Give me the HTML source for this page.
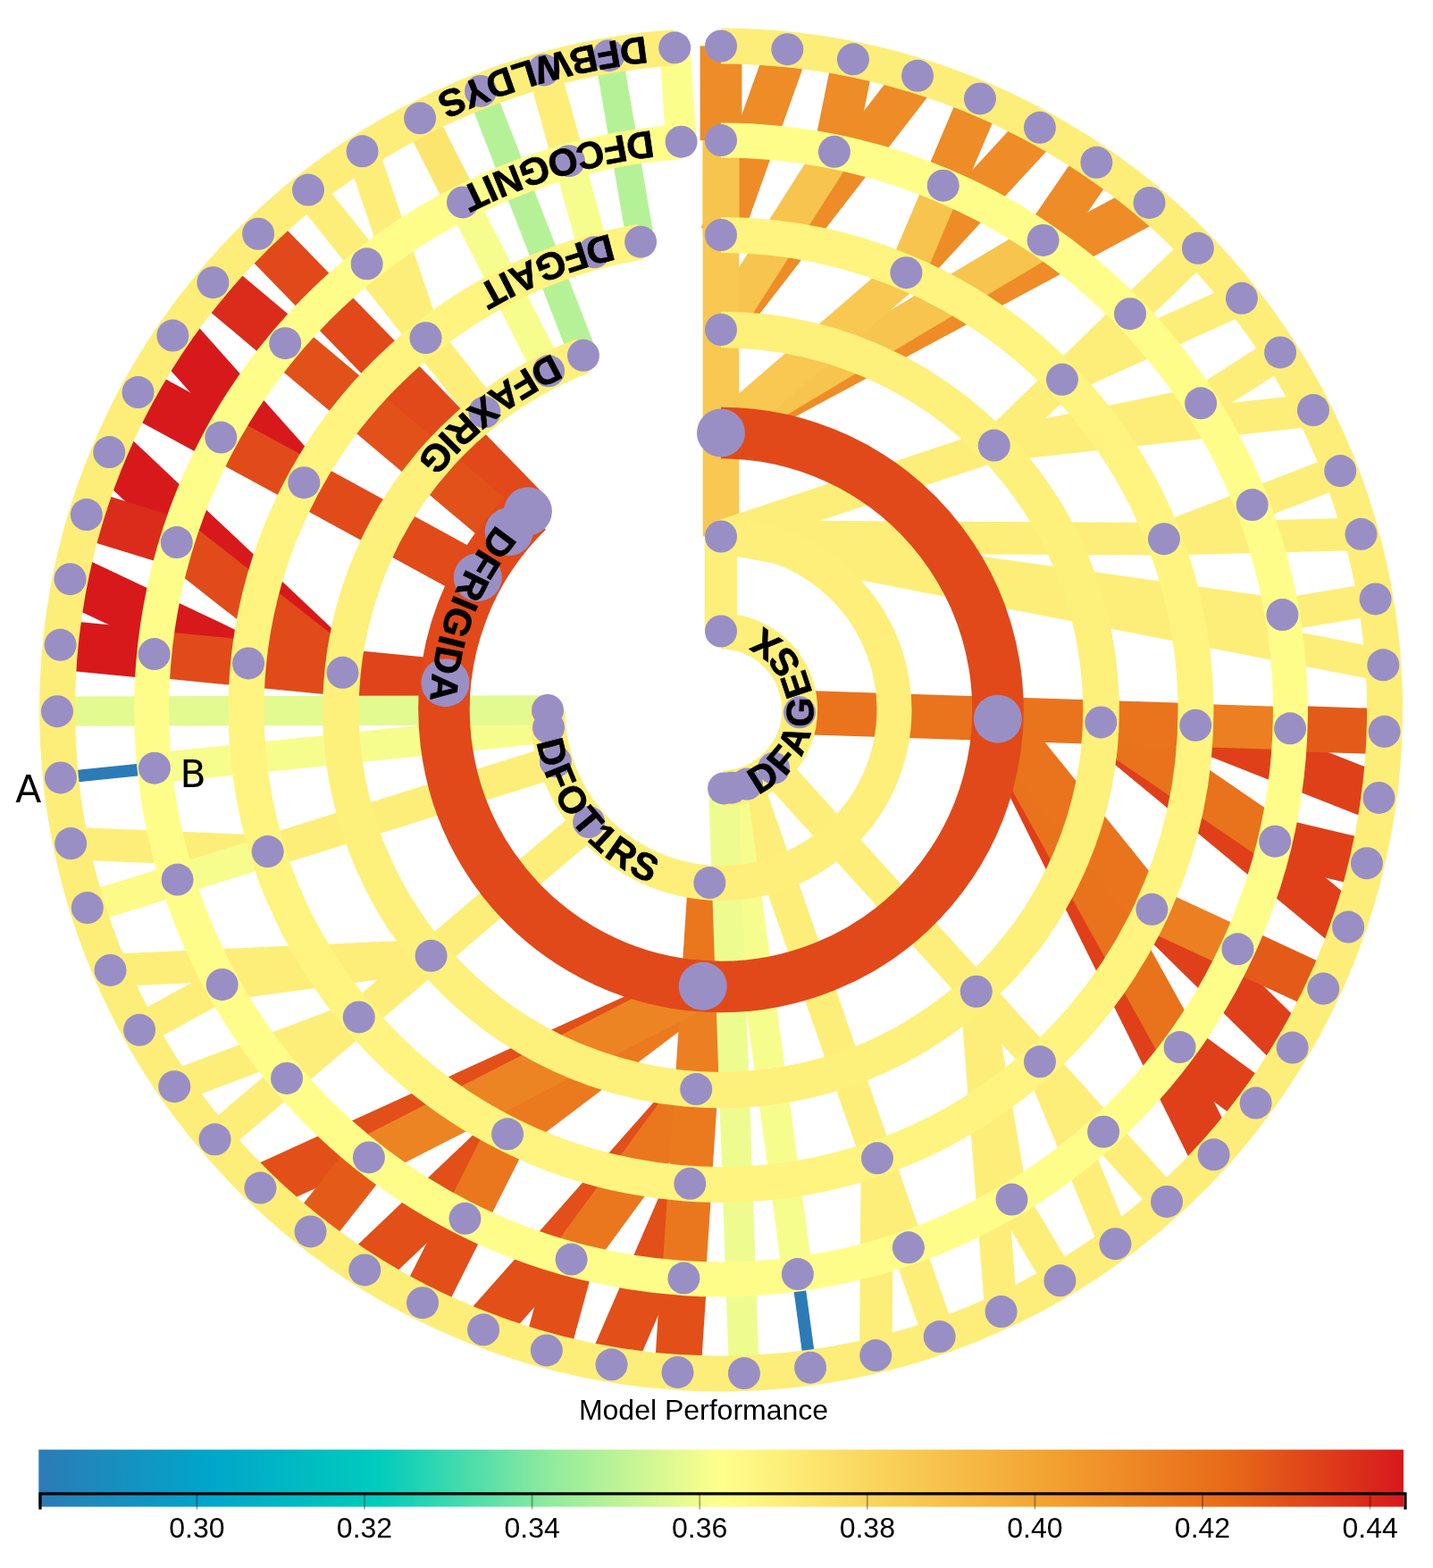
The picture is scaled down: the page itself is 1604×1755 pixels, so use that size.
<!DOCTYPE html>
<html lang="en"><head><meta charset="utf-8"><title>Model Performance</title>
<style>html,body{margin:0;padding:0;background:#fff}body{width:1604px;height:1755px;overflow:hidden}svg{display:block}.lab{font-family:"Liberation Sans",Arial,Helvetica,sans-serif;font-weight:bold;font-size:42.5px;letter-spacing:0px;fill:#000}.ax{font-family:"Liberation Sans",Arial,Helvetica,sans-serif;font-size:32px;fill:#000}.ab{font-family:"DejaVu Sans",Verdana,sans-serif;font-size:42.5px;fill:#000}</style></head><body>
<svg width="1604" height="1755" viewBox="0 0 1604 1755">
<defs><linearGradient id="cb" x1="0" x2="1" y1="0" y2="0">
<stop offset="0%" stop-color="#2c7bb6"/>
<stop offset="12.5%" stop-color="#00a6ca"/>
<stop offset="25%" stop-color="#00ccbc"/>
<stop offset="37.5%" stop-color="#90eb9d"/>
<stop offset="50%" stop-color="#ffff8c"/>
<stop offset="62.5%" stop-color="#f9d057"/>
<stop offset="75%" stop-color="#f29e2e"/>
<stop offset="87.5%" stop-color="#e76818"/>
<stop offset="100%" stop-color="#d7191c"/>
</linearGradient>
<path id="lp1" d="M810.07 882.45 A88 88 0 0 0 819.25 707.36"/><path id="lp2" d="M613 794.93 A194 194 0 0 0 998.13 827.77"/><path id="lp3" d="M590.92 572.22 A310 310 0 0 0 981.2 1050.93"/><path id="lp4" d="M652.98 397.86 A425.5 425.5 0 0 0 889.81 1211.86"/><path id="lp5" d="M717.1 270.66 A531.5 531.5 0 0 0 804.57 1325.99"/><path id="lp6" d="M762.58 158.65 A637.4 637.4 0 0 0 740.33 1428.4"/><path id="lp7" d="M755.22 53.31 A743 743 0 0 0 729.28 1533.42"/></defs>
<g fill="none" stroke-linecap="butt">
<line x1="193.4" y1="375.52" x2="340.28" y2="540.21" stroke="#d7191c" stroke-width="55.52"/>
<line x1="154.56" y1="439.01" x2="247.29" y2="489.54" stroke="#d7191c" stroke-width="55.52"/>
<line x1="122.27" y1="506.07" x2="383.54" y2="752.86" stroke="#d7191c" stroke-width="55.52"/>
<line x1="78.55" y1="648.17" x2="278.05" y2="742.49" stroke="#d7191c" stroke-width="55.52"/>
<line x1="67.57" y1="721.79" x2="172.66" y2="732.12" stroke="#d7191c" stroke-width="55.52"/>
<line x1="238.4" y1="316.23" x2="319.21" y2="384.21" stroke="#db2c1b" stroke-width="54.23"/>
<line x1="96.85" y1="576.03" x2="197.78" y2="607.08" stroke="#db2c1b" stroke-width="54.23"/>
<line x1="1358.58" y1="1292.3" x2="1116.83" y2="804.63" stroke="#df401a" stroke-width="52.95"/>
<line x1="1405.62" y1="1234.62" x2="1320.54" y2="1172.06" stroke="#df401a" stroke-width="52.95"/>
<line x1="1446.65" y1="1172.52" x2="1289.33" y2="1017.78" stroke="#df401a" stroke-width="52.95"/>
<line x1="1509.11" y1="1037.6" x2="1232.27" y2="808.4" stroke="#df401a" stroke-width="52.95"/>
<line x1="1529.9" y1="966.13" x2="1427.16" y2="941.74" stroke="#df401a" stroke-width="52.95"/>
<line x1="1543.45" y1="892.95" x2="1338.22" y2="811.86" stroke="#df401a" stroke-width="52.95"/>
<line x1="383.54" y1="752.86" x2="498.49" y2="764.16" stroke="#e0441a" stroke-width="52.69"/>
<line x1="289.1" y1="261.75" x2="590.92" y2="572.22" stroke="#e1491a" stroke-width="52.31"/>
<line x1="247.29" y1="489.54" x2="340.28" y2="540.21" stroke="#e14b19" stroke-width="52.18"/>
<line x1="197.78" y1="607.08" x2="383.54" y2="752.86" stroke="#e14b19" stroke-width="52.18"/>
<line x1="172.66" y1="732.12" x2="278.05" y2="742.49" stroke="#e14b19" stroke-width="52.18"/>
<line x1="340.28" y1="540.21" x2="534.78" y2="646.18" stroke="#e14b19" stroke-width="52.18"/>
<line x1="278.05" y1="742.49" x2="383.54" y2="752.86" stroke="#e14b19" stroke-width="52.18"/>
<line x1="291.45" y1="1329.53" x2="786.76" y2="1103.84" stroke="#e24f19" stroke-width="51.92"/>
<line x1="408.29" y1="1421.46" x2="568.09" y2="1269.28" stroke="#e24f19" stroke-width="51.92"/>
<line x1="473.02" y1="1458.21" x2="520.48" y2="1363.87" stroke="#e24f19" stroke-width="51.92"/>
<line x1="541.1" y1="1488.29" x2="779.22" y2="1219.09" stroke="#e24f19" stroke-width="51.92"/>
<line x1="611.84" y1="1511.41" x2="639.58" y2="1409.52" stroke="#e24f19" stroke-width="51.92"/>
<line x1="684.55" y1="1527.34" x2="772.29" y2="1324.87" stroke="#e24f19" stroke-width="51.92"/>
<line x1="758.48" y1="1535.91" x2="765.38" y2="1430.54" stroke="#e24f19" stroke-width="51.92"/>
<line x1="319.21" y1="384.21" x2="569.76" y2="594.95" stroke="#e25119" stroke-width="51.79"/>
<line x1="347.56" y1="1378.42" x2="412.86" y2="1295.43" stroke="#e45b19" stroke-width="51.15"/>
<line x1="1481.26" y1="1106.62" x2="1385.43" y2="1062.26" stroke="#e45b19" stroke-width="51.15"/>
<line x1="1549.6" y1="818.77" x2="1444.06" y2="815.32" stroke="#e45b19" stroke-width="51.15"/>
<line x1="1320.54" y1="1172.06" x2="1116.83" y2="804.63" stroke="#e9721c" stroke-width="49.35"/>
<line x1="1427.16" y1="941.74" x2="1232.27" y2="808.4" stroke="#e9721c" stroke-width="49.35"/>
<line x1="1289.33" y1="1017.78" x2="1116.83" y2="804.63" stroke="#ea741d" stroke-width="49.09"/>
<line x1="1338.22" y1="811.86" x2="1232.27" y2="808.4" stroke="#ea741d" stroke-width="49.09"/>
<line x1="1232.27" y1="808.4" x2="1116.83" y2="804.63" stroke="#ea741d" stroke-width="49.09"/>
<line x1="1116.83" y1="804.63" x2="894.95" y2="797.37" stroke="#ea741d" stroke-width="49.09"/>
<line x1="520.48" y1="1363.87" x2="568.09" y2="1269.28" stroke="#ea771e" stroke-width="48.84"/>
<line x1="639.58" y1="1409.52" x2="779.22" y2="1219.09" stroke="#ea771e" stroke-width="48.84"/>
<line x1="765.38" y1="1430.54" x2="772.29" y2="1324.87" stroke="#ea771e" stroke-width="48.84"/>
<line x1="786.76" y1="1103.84" x2="794.33" y2="988.09" stroke="#ea771e" stroke-width="48.84"/>
<line x1="568.09" y1="1269.28" x2="786.76" y2="1103.84" stroke="#eb7a1f" stroke-width="48.58"/>
<line x1="772.29" y1="1324.87" x2="779.22" y2="1219.09" stroke="#eb7a1f" stroke-width="48.58"/>
<line x1="1385.43" y1="1062.26" x2="1289.33" y2="1017.78" stroke="#ec7f21" stroke-width="48.06"/>
<line x1="1444.06" y1="815.32" x2="1338.22" y2="811.86" stroke="#ec7f21" stroke-width="48.06"/>
<line x1="779.22" y1="1219.09" x2="786.76" y2="1103.84" stroke="#ec7f21" stroke-width="48.06"/>
<line x1="412.86" y1="1295.43" x2="786.76" y2="1103.84" stroke="#ed8423" stroke-width="47.55"/>
<line x1="1286.52" y1="226.95" x2="807" y2="484.5" stroke="#ee8c27" stroke-width="46.78"/>
<line x1="1227.33" y1="181.82" x2="1167.59" y2="268.9" stroke="#ee8c27" stroke-width="46.78"/>
<line x1="1163.92" y1="142.84" x2="1014.4" y2="305.14" stroke="#ee8c27" stroke-width="46.78"/>
<line x1="1096.93" y1="110.4" x2="1055.72" y2="207.63" stroke="#ee8c27" stroke-width="46.78"/>
<line x1="1027.03" y1="84.83" x2="807" y2="369" stroke="#ee8c27" stroke-width="46.78"/>
<line x1="954.93" y1="66.37" x2="933.9" y2="169.86" stroke="#ee8c27" stroke-width="46.78"/>
<line x1="881.34" y1="55.23" x2="807" y2="263" stroke="#ee8c27" stroke-width="46.78"/>
<line x1="807" y1="51.5" x2="807" y2="157.1" stroke="#ee8c27" stroke-width="46.78"/>
<line x1="1167.59" y1="268.9" x2="807" y2="484.5" stroke="#f7c44d" stroke-width="41.13"/>
<line x1="1055.72" y1="207.63" x2="1014.4" y2="305.14" stroke="#f7c44d" stroke-width="41.13"/>
<line x1="933.9" y1="169.86" x2="807" y2="369" stroke="#f7c44d" stroke-width="41.13"/>
<line x1="807" y1="157.1" x2="807" y2="263" stroke="#f7c44d" stroke-width="41.13"/>
<line x1="1014.4" y1="305.14" x2="807" y2="484.5" stroke="#f8c851" stroke-width="40.61"/>
<line x1="807" y1="263" x2="807" y2="369" stroke="#f8c851" stroke-width="40.61"/>
<line x1="807" y1="369" x2="807" y2="484.5" stroke="#f8c851" stroke-width="40.61"/>
<line x1="807" y1="484.5" x2="807" y2="600.5" stroke="#f8c851" stroke-width="40.61"/>
<line x1="470.1" y1="132.27" x2="517.98" y2="226.39" stroke="#fce56e" stroke-width="37.53"/>
<line x1="608.69" y1="78.45" x2="636.88" y2="180.22" stroke="#fdee79" stroke-width="36.5"/>
<line x1="405.54" y1="169.3" x2="476.51" y2="378.24" stroke="#fdee79" stroke-width="36.5"/>
<line x1="345" y1="212.6" x2="410.66" y2="295.31" stroke="#fdee79" stroke-width="36.5"/>
<line x1="79.2" y1="944.03" x2="299.69" y2="953.02" stroke="#fdee79" stroke-width="36.5"/>
<line x1="123.54" y1="1085.93" x2="482.58" y2="1069.82" stroke="#fdee79" stroke-width="36.5"/>
<line x1="156.13" y1="1152.85" x2="248.64" y2="1101.92" stroke="#fdee79" stroke-width="36.5"/>
<line x1="195.25" y1="1216.17" x2="401.76" y2="1138.41" stroke="#fdee79" stroke-width="36.5"/>
<line x1="240.51" y1="1275.26" x2="321.02" y2="1206.93" stroke="#fdee79" stroke-width="36.5"/>
<line x1="980.22" y1="1517.03" x2="982" y2="1296.36" stroke="#fdee79" stroke-width="36.5"/>
<line x1="1051.64" y1="1496.07" x2="1016.87" y2="1396.36" stroke="#fdee79" stroke-width="36.5"/>
<line x1="1120.61" y1="1468.07" x2="1092.77" y2="1109.75" stroke="#fdee79" stroke-width="36.5"/>
<line x1="1186.42" y1="1433.32" x2="1132.5" y2="1342.52" stroke="#fdee79" stroke-width="36.5"/>
<line x1="1248.43" y1="1392.15" x2="1163.96" y2="1188.29" stroke="#fdee79" stroke-width="36.5"/>
<line x1="1306.01" y1="1344.99" x2="1235.09" y2="1266.75" stroke="#fdee79" stroke-width="36.5"/>
<line x1="1548.31" y1="744.35" x2="807" y2="600.5" stroke="#fdee79" stroke-width="36.5"/>
<line x1="1539.57" y1="670.44" x2="1435.45" y2="688.07" stroke="#fdee79" stroke-width="36.5"/>
<line x1="1523.48" y1="597.77" x2="1302.88" y2="603.2" stroke="#fdee79" stroke-width="36.5"/>
<line x1="1500.2" y1="527.07" x2="1401.68" y2="565.08" stroke="#fdee79" stroke-width="36.5"/>
<line x1="1469.97" y1="459.06" x2="1112.75" y2="498.58" stroke="#fdee79" stroke-width="36.5"/>
<line x1="1433.08" y1="394.41" x2="1344.1" y2="451.27" stroke="#fdee79" stroke-width="36.5"/>
<line x1="1389.91" y1="333.78" x2="1188.92" y2="424.86" stroke="#fdee79" stroke-width="36.5"/>
<line x1="1340.89" y1="277.77" x2="1265.01" y2="351.21" stroke="#fdee79" stroke-width="36.5"/>
<line x1="410.66" y1="295.31" x2="476.51" y2="378.24" stroke="#fdee79" stroke-width="36.5"/>
<line x1="248.64" y1="1101.92" x2="482.58" y2="1069.82" stroke="#fdee79" stroke-width="36.5"/>
<line x1="321.02" y1="1206.93" x2="401.76" y2="1138.41" stroke="#fdee79" stroke-width="36.5"/>
<line x1="1016.87" y1="1396.36" x2="982" y2="1296.36" stroke="#fdee79" stroke-width="36.5"/>
<line x1="1132.5" y1="1342.52" x2="1092.77" y2="1109.75" stroke="#fdee79" stroke-width="36.5"/>
<line x1="1235.09" y1="1266.75" x2="1163.96" y2="1188.29" stroke="#fdee79" stroke-width="36.5"/>
<line x1="1435.45" y1="688.07" x2="807" y2="600.5" stroke="#fdee79" stroke-width="36.5"/>
<line x1="1401.68" y1="565.08" x2="1302.88" y2="603.2" stroke="#fdee79" stroke-width="36.5"/>
<line x1="1344.1" y1="451.27" x2="1112.75" y2="498.58" stroke="#fdee79" stroke-width="36.5"/>
<line x1="1265.01" y1="351.21" x2="1188.92" y2="424.86" stroke="#fdee79" stroke-width="36.5"/>
<line x1="476.51" y1="378.24" x2="542.42" y2="461.26" stroke="#fdee79" stroke-width="36.5"/>
<line x1="299.69" y1="953.02" x2="621.83" y2="852.36" stroke="#fdee79" stroke-width="36.5"/>
<line x1="401.76" y1="1138.41" x2="482.58" y2="1069.82" stroke="#fdee79" stroke-width="36.5"/>
<line x1="982" y1="1296.36" x2="835.98" y2="877.59" stroke="#fdee79" stroke-width="36.5"/>
<line x1="1163.96" y1="1188.29" x2="1092.77" y2="1109.75" stroke="#fdee79" stroke-width="36.5"/>
<line x1="1302.88" y1="603.2" x2="807" y2="600.5" stroke="#fdee79" stroke-width="36.5"/>
<line x1="1188.92" y1="424.86" x2="1112.75" y2="498.58" stroke="#fdee79" stroke-width="36.5"/>
<line x1="482.58" y1="1069.82" x2="659.09" y2="920.03" stroke="#fdee79" stroke-width="36.5"/>
<line x1="1092.77" y1="1109.75" x2="866.1" y2="859.7" stroke="#fdee79" stroke-width="36.5"/>
<line x1="1112.75" y1="498.58" x2="807" y2="600.5" stroke="#fdee79" stroke-width="36.5"/>
<line x1="807" y1="600.5" x2="807" y2="706.5" stroke="#fdef7a" stroke-width="36.37"/>
<line x1="97.81" y1="1016.09" x2="198.61" y2="984.6" stroke="#fefa87" stroke-width="35.09"/>
<line x1="755.22" y1="53.31" x2="762.58" y2="158.65" stroke="#fcfe8c" stroke-width="34.44"/>
<line x1="636.88" y1="180.22" x2="665.14" y2="282.28" stroke="#f7fd8d" stroke-width="34.19"/>
<line x1="517.98" y1="226.39" x2="614.07" y2="415.26" stroke="#f7fd8d" stroke-width="34.19"/>
<line x1="172.94" y1="859.67" x2="614.02" y2="814.33" stroke="#f7fd8d" stroke-width="34.19"/>
<line x1="198.61" y1="984.6" x2="299.69" y2="953.02" stroke="#f7fd8d" stroke-width="34.19"/>
<line x1="892.84" y1="1426.09" x2="818.85" y2="881.7" stroke="#f7fd8d" stroke-width="34.19"/>
<line x1="832.9" y1="1537.05" x2="810.07" y2="882.45" stroke="#eefc8f" stroke-width="33.8"/>
<line x1="64" y1="796.13" x2="613" y2="794.93" stroke="#e2fa90" stroke-width="33.24"/>
<line x1="681.33" y1="62.21" x2="717.1" y2="270.66" stroke="#b5f297" stroke-width="31.1"/>
<line x1="538.05" y1="101.89" x2="652.98" y2="397.86" stroke="#b5f297" stroke-width="31.1"/>
<line x1="67.89" y1="870.46" x2="172.94" y2="859.67" stroke="#2c7bb6" stroke-width="13.65"/>
<line x1="907.07" y1="1530.73" x2="892.84" y2="1426.09" stroke="#2c7bb6" stroke-width="13.65"/>
</g>
<g fill="none" stroke-linecap="butt" stroke-linejoin="round">
<path d="M807 706.5 A88 88 0 0 1 810.07 882.45" stroke="#fdef7a" stroke-width="40"/>
<path d="M807 600.5 A194 194 0 1 1 613 794.93" stroke="#fdef7a" stroke-width="39"/>
<path d="M807 484.5 A310 310 0 1 1 590.92 572.22" stroke="#e1491a" stroke-width="57.5"/>
<path d="M807 369 A425.5 425.5 0 1 1 652.98 397.86" stroke="#fdf07b" stroke-width="40.6"/>
<path d="M807 263 A531.5 531.5 0 1 1 717.1 270.66" stroke="#fef47f" stroke-width="40"/>
<path d="M807 157.1 A637.4 637.4 0 1 1 762.58 158.65" stroke="#fffd8a" stroke-width="39"/>
<path d="M807 51.5 A743 743 0 1 1 755.22 53.31" stroke="#fdee79" stroke-width="40"/>
</g>
<g fill="#9a8fc4">
<circle cx="807" cy="706.5" r="18"/>
<circle cx="894.95" cy="797.37" r="18"/>
<circle cx="866.1" cy="859.7" r="18"/>
<circle cx="835.98" cy="877.59" r="18"/>
<circle cx="818.85" cy="881.7" r="18"/>
<circle cx="810.07" cy="882.45" r="18"/>
<circle cx="807" cy="600.5" r="18"/>
<circle cx="794.33" cy="988.09" r="18"/>
<circle cx="659.09" cy="920.03" r="18"/>
<circle cx="621.83" cy="852.36" r="18"/>
<circle cx="614.02" cy="814.33" r="18"/>
<circle cx="613" cy="794.93" r="18"/>
<circle cx="807" cy="484.5" r="27"/>
<circle cx="1116.83" cy="804.63" r="27"/>
<circle cx="786.76" cy="1103.84" r="27"/>
<circle cx="498.49" cy="764.16" r="27"/>
<circle cx="534.78" cy="646.18" r="27"/>
<circle cx="569.76" cy="594.95" r="27"/>
<circle cx="590.92" cy="572.22" r="27"/>
<circle cx="807" cy="369" r="18"/>
<circle cx="1112.75" cy="498.58" r="18"/>
<circle cx="1232.27" cy="808.4" r="18"/>
<circle cx="1092.77" cy="1109.75" r="18"/>
<circle cx="779.22" cy="1219.09" r="18"/>
<circle cx="482.58" cy="1069.82" r="18"/>
<circle cx="383.54" cy="752.86" r="18"/>
<circle cx="542.42" cy="461.26" r="18"/>
<circle cx="614.07" cy="415.26" r="18"/>
<circle cx="652.98" cy="397.86" r="18"/>
<circle cx="807" cy="263" r="18"/>
<circle cx="1014.4" cy="305.14" r="18"/>
<circle cx="1188.92" cy="424.86" r="18"/>
<circle cx="1302.88" cy="603.2" r="18"/>
<circle cx="1338.22" cy="811.86" r="18"/>
<circle cx="1289.33" cy="1017.78" r="18"/>
<circle cx="1163.96" cy="1188.29" r="18"/>
<circle cx="982" cy="1296.36" r="18"/>
<circle cx="772.29" cy="1324.87" r="18"/>
<circle cx="568.09" cy="1269.28" r="18"/>
<circle cx="401.76" cy="1138.41" r="18"/>
<circle cx="299.69" cy="953.02" r="18"/>
<circle cx="278.05" cy="742.49" r="18"/>
<circle cx="340.28" cy="540.21" r="18"/>
<circle cx="476.51" cy="378.24" r="18"/>
<circle cx="665.14" cy="282.28" r="18"/>
<circle cx="717.1" cy="270.66" r="18"/>
<circle cx="807" cy="157.1" r="18"/>
<circle cx="933.9" cy="169.86" r="18"/>
<circle cx="1055.72" cy="207.63" r="18"/>
<circle cx="1167.59" cy="268.9" r="18"/>
<circle cx="1265.01" cy="351.21" r="18"/>
<circle cx="1344.1" cy="451.27" r="18"/>
<circle cx="1401.68" cy="565.08" r="18"/>
<circle cx="1435.45" cy="688.07" r="18"/>
<circle cx="1444.06" cy="815.32" r="18"/>
<circle cx="1427.16" cy="941.74" r="18"/>
<circle cx="1385.43" cy="1062.26" r="18"/>
<circle cx="1320.54" cy="1172.06" r="18"/>
<circle cx="1235.09" cy="1266.75" r="18"/>
<circle cx="1132.5" cy="1342.52" r="18"/>
<circle cx="1016.87" cy="1396.36" r="18"/>
<circle cx="892.84" cy="1426.09" r="18"/>
<circle cx="765.38" cy="1430.54" r="18"/>
<circle cx="639.58" cy="1409.52" r="18"/>
<circle cx="520.48" cy="1363.87" r="18"/>
<circle cx="412.86" cy="1295.43" r="18"/>
<circle cx="321.02" cy="1206.93" r="18"/>
<circle cx="248.64" cy="1101.92" r="18"/>
<circle cx="198.61" cy="984.6" r="18"/>
<circle cx="172.94" cy="859.67" r="18"/>
<circle cx="172.66" cy="732.12" r="18"/>
<circle cx="197.78" cy="607.08" r="18"/>
<circle cx="247.29" cy="489.54" r="18"/>
<circle cx="319.21" cy="384.21" r="18"/>
<circle cx="410.66" cy="295.31" r="18"/>
<circle cx="517.98" cy="226.39" r="18"/>
<circle cx="636.88" cy="180.22" r="18"/>
<circle cx="762.58" cy="158.65" r="18"/>
<circle cx="807" cy="51.5" r="18"/>
<circle cx="881.34" cy="55.23" r="18"/>
<circle cx="954.93" cy="66.37" r="18"/>
<circle cx="1027.03" cy="84.83" r="18"/>
<circle cx="1096.93" cy="110.4" r="18"/>
<circle cx="1163.92" cy="142.84" r="18"/>
<circle cx="1227.33" cy="181.82" r="18"/>
<circle cx="1286.52" cy="226.95" r="18"/>
<circle cx="1340.89" cy="277.77" r="18"/>
<circle cx="1389.91" cy="333.78" r="18"/>
<circle cx="1433.08" cy="394.41" r="18"/>
<circle cx="1469.97" cy="459.06" r="18"/>
<circle cx="1500.2" cy="527.07" r="18"/>
<circle cx="1523.48" cy="597.77" r="18"/>
<circle cx="1539.57" cy="670.44" r="18"/>
<circle cx="1548.31" cy="744.35" r="18"/>
<circle cx="1549.6" cy="818.77" r="18"/>
<circle cx="1543.45" cy="892.95" r="18"/>
<circle cx="1529.9" cy="966.13" r="18"/>
<circle cx="1509.11" cy="1037.6" r="18"/>
<circle cx="1481.26" cy="1106.62" r="18"/>
<circle cx="1446.65" cy="1172.52" r="18"/>
<circle cx="1405.62" cy="1234.62" r="18"/>
<circle cx="1358.58" cy="1292.3" r="18"/>
<circle cx="1306.01" cy="1344.99" r="18"/>
<circle cx="1248.43" cy="1392.15" r="18"/>
<circle cx="1186.42" cy="1433.32" r="18"/>
<circle cx="1120.61" cy="1468.07" r="18"/>
<circle cx="1051.64" cy="1496.07" r="18"/>
<circle cx="980.22" cy="1517.03" r="18"/>
<circle cx="907.07" cy="1530.73" r="18"/>
<circle cx="832.9" cy="1537.05" r="18"/>
<circle cx="758.48" cy="1535.91" r="18"/>
<circle cx="684.55" cy="1527.34" r="18"/>
<circle cx="611.84" cy="1511.41" r="18"/>
<circle cx="541.1" cy="1488.29" r="18"/>
<circle cx="473.02" cy="1458.21" r="18"/>
<circle cx="408.29" cy="1421.46" r="18"/>
<circle cx="347.56" cy="1378.42" r="18"/>
<circle cx="291.45" cy="1329.53" r="18"/>
<circle cx="240.51" cy="1275.26" r="18"/>
<circle cx="195.25" cy="1216.17" r="18"/>
<circle cx="156.13" cy="1152.85" r="18"/>
<circle cx="123.54" cy="1085.93" r="18"/>
<circle cx="97.81" cy="1016.09" r="18"/>
<circle cx="79.2" cy="944.03" r="18"/>
<circle cx="67.89" cy="870.46" r="18"/>
<circle cx="64" cy="796.13" r="18"/>
<circle cx="67.57" cy="721.79" r="18"/>
<circle cx="78.55" cy="648.17" r="18"/>
<circle cx="96.85" cy="576.03" r="18"/>
<circle cx="122.27" cy="506.07" r="18"/>
<circle cx="154.56" cy="439.01" r="18"/>
<circle cx="193.4" cy="375.52" r="18"/>
<circle cx="238.4" cy="316.23" r="18"/>
<circle cx="289.1" cy="261.75" r="18"/>
<circle cx="345" cy="212.6" r="18"/>
<circle cx="405.54" cy="169.3" r="18"/>
<circle cx="470.1" cy="132.27" r="18"/>
<circle cx="538.05" cy="101.89" r="18"/>
<circle cx="608.69" cy="78.45" r="18"/>
<circle cx="681.33" cy="62.21" r="18"/>
<circle cx="755.22" cy="53.31" r="18"/>
</g>
<text class="lab" dy="15.3" stroke="#000" stroke-width="0.7" stroke-linejoin="round"><textPath href="#lp1" startOffset="31">DFAGESX</textPath></text>
<text class="lab" dy="15.3" stroke="#000" stroke-width="0.7" stroke-linejoin="round"><textPath href="#lp2" startOffset="32">DFOT1RS</textPath></text>
<text class="lab" dy="15.3" stroke="#000" stroke-width="0.7" stroke-linejoin="round"><textPath href="#lp3" startOffset="33">DFRIGIDA</textPath></text>
<text class="lab" dy="15.3" stroke="#000" stroke-width="0.7" stroke-linejoin="round"><textPath href="#lp4" startOffset="30">DFAXRIG</textPath></text>
<text class="lab" dy="15.3" stroke="#000" stroke-width="0.7" stroke-linejoin="round"><textPath href="#lp5" startOffset="31">DFGAIT</textPath></text>
<text class="lab" dy="15.3" stroke="#000" stroke-width="0.7" stroke-linejoin="round"><textPath href="#lp6" startOffset="31">DFCOGNIT</textPath></text>
<text class="lab" dy="15.3" stroke="#000" stroke-width="0.7" stroke-linejoin="round"><textPath href="#lp7" startOffset="31">DFBWLDYS</textPath></text>
<text class="ab" x="17.3" y="897.7">A</text><text class="ab" x="201.5" y="880.9">B</text>
<text class="ax" x="787.5" y="1588.5" text-anchor="middle">Model Performance</text>
<rect x="43.3" y="1622.5" width="1527.7" height="64" fill="url(#cb)"/>
<g stroke="#000" fill="none"><path d="M45 1689.5 V1671.8 H1573 V1689.5" stroke-width="3.2"/>
<line x1="220.4" x2="220.4" y1="1673" y2="1689.5" stroke-width="2" stroke-opacity="0.3"/>
<line x1="408" x2="408" y1="1673" y2="1689.5" stroke-width="2" stroke-opacity="0.3"/>
<line x1="595.6" x2="595.6" y1="1673" y2="1689.5" stroke-width="2" stroke-opacity="0.3"/>
<line x1="783.2" x2="783.2" y1="1673" y2="1689.5" stroke-width="2" stroke-opacity="0.3"/>
<line x1="970.8" x2="970.8" y1="1673" y2="1689.5" stroke-width="2" stroke-opacity="0.3"/>
<line x1="1158.4" x2="1158.4" y1="1673" y2="1689.5" stroke-width="2" stroke-opacity="0.3"/>
<line x1="1346" x2="1346" y1="1673" y2="1689.5" stroke-width="2" stroke-opacity="0.3"/>
<line x1="1533.6" x2="1533.6" y1="1673" y2="1689.5" stroke-width="2" stroke-opacity="0.3"/>
</g><g class="ax" text-anchor="middle">
<text x="220.4" y="1721.3">0.30</text>
<text x="408" y="1721.3">0.32</text>
<text x="595.6" y="1721.3">0.34</text>
<text x="783.2" y="1721.3">0.36</text>
<text x="970.8" y="1721.3">0.38</text>
<text x="1158.4" y="1721.3">0.40</text>
<text x="1346" y="1721.3">0.42</text>
<text x="1533.6" y="1721.3">0.44</text>
</g>
</svg></body></html>
